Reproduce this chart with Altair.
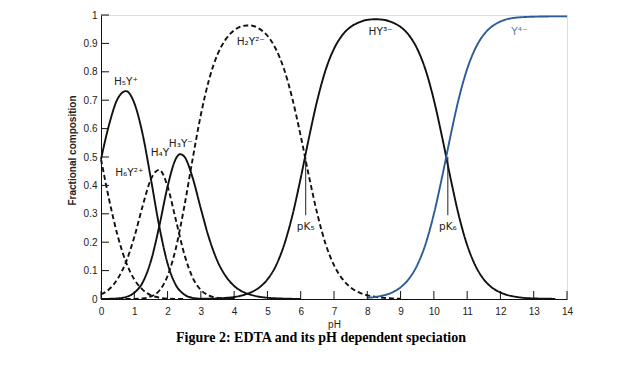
import altair as alt
import pandas as pd

# ---- data ----
ph_h6y = [0, 0.25, 0.5, 0.75, 1.0, 1.25, 1.5, 1.75, 2.0, 2.25, 2.5]
f_h6y = [0.492, 0.347, 0.223, 0.130, 0.069, 0.033, 0.013, 0.005, 0.001, 0.0003, 0.0]

ph_h5y = [0, 0.25, 0.5, 0.75, 1.0, 1.25, 1.5, 1.75, 2.0, 2.25, 2.5, 2.75, 3.0, 3.25, 3.5, 4.0]
f_h5y = [0.492, 0.617, 0.705, 0.732, 0.690, 0.581, 0.422, 0.256, 0.125, 0.049, 0.016, 0.004, 0.001, 0.0002, 0.0, 0.0]

ph_h4y = [0, 0.25, 0.5, 0.75, 1.0, 1.25, 1.5, 1.75, 2.0, 2.25, 2.5, 2.75, 3.0, 3.25, 3.5, 3.75, 4.0]
f_h4y = [0.016, 0.035, 0.071, 0.130, 0.218, 0.327, 0.422, 0.455, 0.396, 0.278, 0.159, 0.076, 0.032, 0.012, 0.004, 0.001, 0.0005]

ph_h3y = [0, 0.25, 0.5, 0.75, 1.0, 1.25, 1.5, 1.75, 2.0, 2.25, 2.375, 2.5, 2.75, 3.0, 3.25, 3.5, 3.75,
          4.0, 4.25, 4.5, 4.75, 5.0, 5.5, 6.0]
f_h3y = [0.0002, 0.0006, 0.002, 0.007, 0.022, 0.058, 0.134, 0.256, 0.396, 0.494, 0.510, 0.502, 0.428, 0.318,
         0.213, 0.133, 0.080, 0.046, 0.026, 0.015, 0.008, 0.0045, 0.0013, 0.0003]

ph_h2y = [0.5, 0.75, 1.0, 1.25, 1.5, 1.75, 2.0, 2.25, 2.5, 2.75, 3.0, 3.25, 3.5, 3.75, 4.0, 4.25, 4.375, 4.5,
          4.75, 5.0, 5.25, 5.5, 5.75, 6.0, 6.25, 6.5, 6.75, 7.0, 7.25, 7.5, 7.75, 8.0, 8.25, 8.5, 8.75, 9.0]
f_h2y = [0.0, 0.0001, 0.0005, 0.002, 0.009, 0.029, 0.081, 0.179, 0.324, 0.491, 0.649, 0.774, 0.861, 0.915,
         0.946, 0.961, 0.963, 0.963, 0.952, 0.927, 0.881, 0.809, 0.705, 0.574, 0.431, 0.299, 0.193, 0.119,
         0.071, 0.041, 0.023, 0.013, 0.0075, 0.004, 0.002, 0.001]

ph_hy = [3.0, 3.25, 3.5, 3.75, 4.0, 4.25, 4.5, 4.75, 5.0, 5.25, 5.5, 5.75, 6.0, 6.25, 6.5, 6.75, 7.0, 7.25,
         7.5, 7.75, 8.0, 8.25, 8.5, 8.75, 9.0, 9.25, 9.5, 9.75, 10.0, 10.25, 10.5, 10.75, 11.0, 11.25, 11.5,
         11.75, 12.0, 12.5, 13.0, 13.65]
f_hy = [0.0005, 0.001, 0.002, 0.004, 0.007, 0.013, 0.023, 0.040, 0.069, 0.116, 0.190, 0.294, 0.426, 0.569,
        0.701, 0.807, 0.881, 0.929, 0.958, 0.974, 0.983, 0.985, 0.983, 0.974, 0.958, 0.929, 0.881, 0.807,
        0.701, 0.569, 0.426, 0.294, 0.190, 0.117, 0.069, 0.040, 0.023, 0.007, 0.002, 0.0005]

ph_y = [8.0, 8.25, 8.5, 8.75, 9.0, 9.25, 9.5, 9.75, 10.0, 10.25, 10.5, 10.75, 11.0, 11.25, 11.5, 11.75,
        12.0, 12.5, 13.0, 13.5, 14.0]
f_y = [0.004, 0.0075, 0.013, 0.023, 0.041, 0.071, 0.119, 0.193, 0.299, 0.431, 0.574, 0.706, 0.810, 0.883,
       0.931, 0.960, 0.977, 0.991, 0.994, 0.995, 0.995]

species = ["H6Y", "H5Y", "H4Y", "H3Y", "H2Y", "HY", "Y"]
styles = ["dashed", "solid", "dashed", "solid", "dashed", "solid", "solid"]
colors = ["#111111", "#111111", "#111111", "#111111", "#111111", "#111111", "#2c5d96"]
series = [(ph_h6y, f_h6y), (ph_h5y, f_h5y), (ph_h4y, f_h4y), (ph_h3y, f_h3y),
          (ph_h2y, f_h2y), (ph_hy, f_hy), (ph_y, f_y)]

label_text = ["H₅Y⁺", "H₆Y²⁺", "H₄Y", "H₃Y⁻", "H₂Y²⁻", "HY³⁻", "Y⁴⁻"]
label_x = [0.75, 0.85, 1.77, 2.4, 4.5, 8.4, 12.57]
label_y = [0.765, 0.445, 0.515, 0.545, 0.905, 0.94, 0.94]
label_color = ["#222222"] * 6 + ["#5b7fae"]

pk_text = ["pK₅", "pK₆"]
pk_x = [6.15, 10.42]
pk_top = [0.50, 0.50]
pk_bottom = [0.295, 0.295]
pk_label_y = [0.255, 0.255]

x_ticks = list(range(0, 15))
y_ticks = [0, 0.1, 0.2, 0.3, 0.4, 0.5, 0.6, 0.7, 0.8, 0.9, 1.0]

rows = []
for name, sty, (xs, ys) in zip(species, styles, series):
    for a, b in zip(xs, ys):
        rows.append({"species": name, "style": sty, "pH": a, "f": b})
df = pd.DataFrame(rows)

labels_df = pd.DataFrame({"label": label_text, "x": label_x, "y": label_y, "c": label_color})
pk_df = pd.DataFrame({"label": pk_text, "x": pk_x, "top": pk_top, "bottom": pk_bottom, "ly": pk_label_y})
xt_df = pd.DataFrame({"t": x_ticks})
yt_df = pd.DataFrame({"t": y_ticks})

W, H = 466, 284
FONT = "Liberation Sans"
LFONT = "DejaVu Sans"

xscale = alt.Scale(domain=[0, 14], nice=False, zero=False)
yscale = alt.Scale(domain=[0, 1], nice=False)

xaxis = alt.Axis(values=x_ticks, format="d", labelPadding=7, title="pH", titlePadding=3,
                 titleFontWeight="normal")
yaxis = alt.Axis(values=y_ticks, format=".1~f", labelPadding=4, title="Fractional composition",
                 titlePadding=6, titleFontWeight="bold", titleY=135)

lines = alt.Chart(df).mark_line(interpolate="monotone", strokeWidth=1.9).encode(
    x=alt.X("pH:Q", scale=xscale, axis=xaxis),
    y=alt.Y("f:Q", scale=yscale, axis=yaxis),
    detail="species:N",
    order=alt.Order("pH:Q"),
    color=alt.Color("species:N", scale=alt.Scale(domain=species, range=colors), legend=None),
    strokeDash=alt.StrokeDash("style:N", scale=alt.Scale(domain=["solid", "dashed"], range=[[1, 0], [5, 3]]),
                              legend=None),
)

xt = alt.Chart(xt_df).mark_rule(color="#111111", strokeWidth=1).encode(
    x=alt.X("t:Q", scale=xscale, axis=xaxis), y=alt.value(H - 8), y2=alt.value(H))
yt = alt.Chart(yt_df).mark_rule(color="#111111", strokeWidth=1).encode(
    y=alt.Y("t:Q", scale=yscale, axis=yaxis), x=alt.value(0), x2=alt.value(8))

labels = alt.Chart(labels_df).mark_text(font=LFONT, fontSize=10.5).encode(
    x=alt.X("x:Q", scale=xscale, axis=xaxis), y=alt.Y("y:Q", scale=yscale, axis=yaxis),
    text="label:N", color=alt.Color("c:N", scale=None))

pk_rules = alt.Chart(pk_df).mark_rule(color="#222222", strokeWidth=1).encode(
    x=alt.X("x:Q", scale=xscale, axis=xaxis), y=alt.Y("top:Q", scale=yscale, axis=yaxis), y2="bottom:Q")
pk_labels = alt.Chart(pk_df).mark_text(font=LFONT, fontSize=10.5, color="#222222").encode(
    x=alt.X("x:Q", scale=xscale, axis=xaxis), y=alt.Y("ly:Q", scale=yscale, axis=yaxis), text="label:N")

chart = alt.layer(lines, xt, yt, pk_rules, pk_labels, labels).properties(
    width=W, height=H,
    autosize=alt.AutoSizeParams(type="none"),
    padding={"left": 93, "top": 7, "right": 50, "bottom": 60},
    title=alt.TitleParams("Figure 2: EDTA and its pH dependent speciation", orient="bottom",
                          anchor="middle", font="Liberation Serif", fontSize=14, fontWeight="bold",
                          color="#000000", offset=2, dx=-13),
).configure_view(stroke=None).configure(background="white").configure_axis(
    labelOverlap=False, labelFlush=False, ticks=False, tickSize=0, grid=False,
    labelFont=FONT, titleFont=FONT, labelFontSize=10, titleFontSize=10,
    domainColor="#111111", labelColor="#222222", titleColor="#222222",
)

chart.save("out.html", embed_options={"renderer": "svg", "actions": False})
